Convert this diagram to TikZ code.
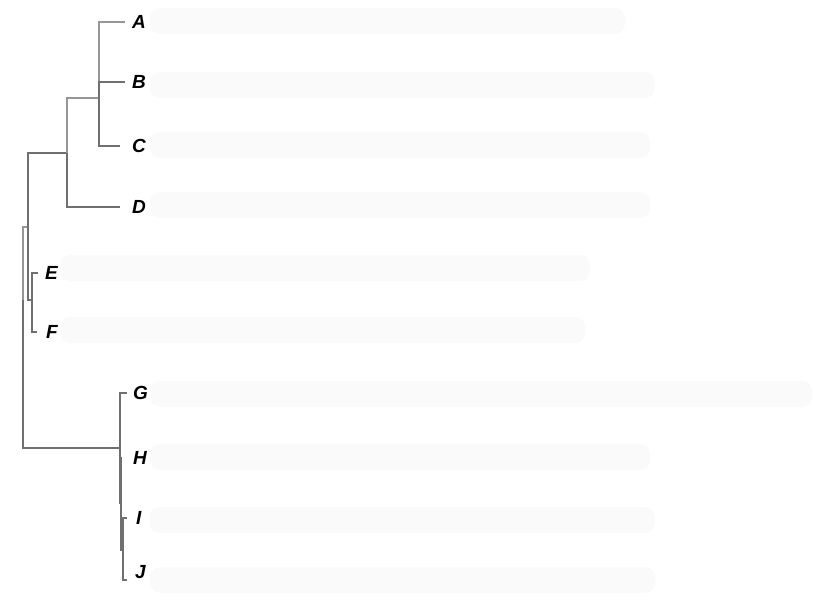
\documentclass[tikz,border=0pt]{standalone}
\usepackage{fontspec}
\setsansfont{Liberation Sans}
\usetikzlibrary{positioning}
\definecolor{branch}{HTML}{707070}
\definecolor{branchlt}{HTML}{969696}
\definecolor{band}{HTML}{FAFAFA}

\begin{document}
\begin{tikzpicture}[x=1pt,y=-1pt,
    leaf/.style = {anchor=west, inner sep=0pt, font=\sffamily\bfseries\itshape\fontsize{19}{21}\selectfont},
    br/.style = {draw=branch, line width=1.6pt},
    brlt/.style = {draw=branchlt, line width=1.6pt}]
      \useasboundingbox (0,0) rectangle (815,605);
      % faint bands behind the labels
      \foreach \y/\l/\r in {21/150/625,85/150/655,145/150/650,205/150/650,268/60/590,330/60/585,394/150/812,457/150/650,520/150/655,580/150/655}
        \fill[band, rounded corners=10pt] (\l,\y-13) rectangle (\r,\y+13);
      \node[leaf](A) at (132,22){A};
      \node[leaf](B) at (132,82){B};
      \node[leaf](C) at (132,146){C};
      \node[leaf](D) at (132,207){D};
      \node[leaf](E) at (45,273){E};
      \node[leaf](F) at (46,332){F};
      \node[leaf](G) at (133,393){G};
      \node[leaf](H) at (133,458){H};
      \node[leaf](I) at (136,518){I};
      \node[leaf](J) at (135,572){J};
      \coordinate (root) at (23,300);
      \coordinate (ad) at (28,227);
      \coordinate (abcd) at (67,153);
      \coordinate (abc) at (99,98);
      \coordinate (ef) at (32,300);
      \coordinate (gj) at (120,448);
      \coordinate (hj) at (121,503);
      \coordinate (ij) at (123,550);
      \draw[brlt] (root) |- (ad);
      \draw[br] (root) |- (gj);
      \draw[br] (ad) |- (abcd);
      \draw[br] (ad) |- (ef);
      \draw[brlt] (abcd) |- (abc);
      \draw[br] (abcd) |- ([xshift=-12pt]D.west);
      \draw[brlt] (abc) |- ([xshift=-7pt]A.west);
      \draw[br] (abc) |- ([xshift=-7pt]B.west);
      \draw[br] (abc) |- ([xshift=-12pt]C.west);
      \draw[br, line width=1.2pt] (ef) |- ([xshift=-7pt]E.west);
      \draw[br, line width=1.2pt] (ef) |- ([xshift=-9pt]F.west);
      \draw[br] (gj) |- ([xshift=-6pt]G.west);
      \draw[br] (hj) |- ([xshift=-12pt,yshift=1pt]H.west);
      \draw[br] (gj) |- (hj);
      \draw[br] (hj) |- (ij);
      \draw[br, line width=1.2pt] (ij) |- ([xshift=-9pt]I.west);
      \draw[br, line width=1.2pt] (ij) |- ([xshift=-8pt,yshift=-8pt]J.west);
\end{tikzpicture}
\end{document}
